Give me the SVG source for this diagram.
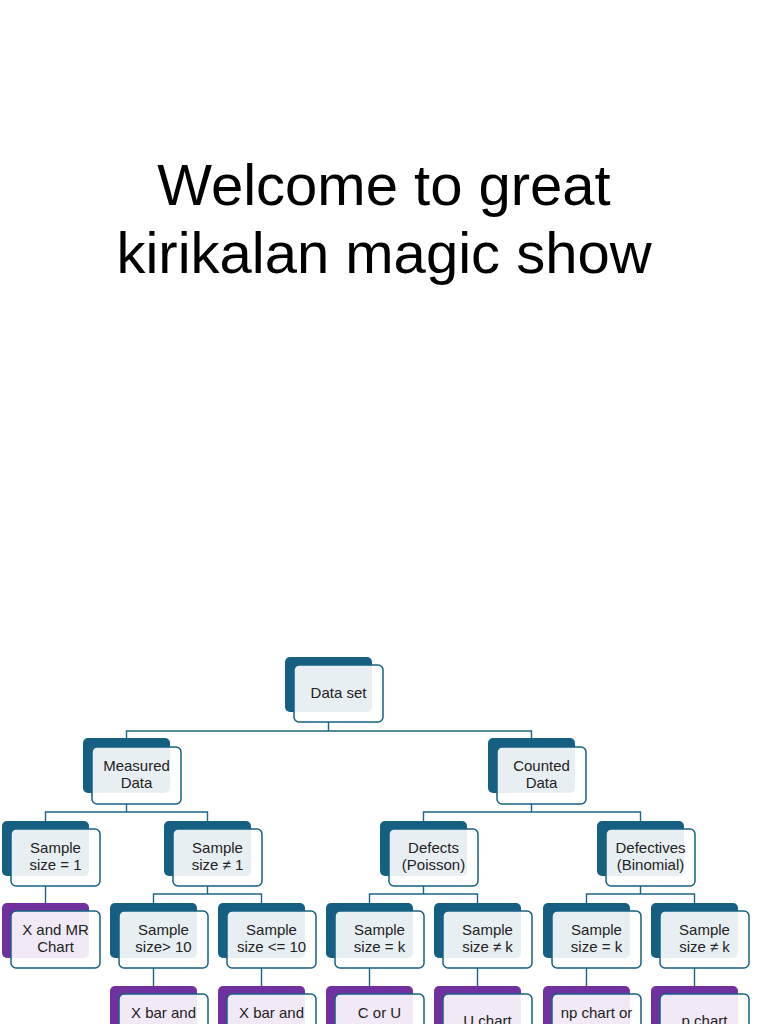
<svg xmlns="http://www.w3.org/2000/svg" width="768" height="1024" viewBox="0 0 768 1024">
<style>
.bk{fill:#156082}
.pk{fill:#7030a0}
.fr{fill:#ffffff;fill-opacity:0.9;stroke:#156082;stroke-width:1.5}
.t{font-family:"Liberation Sans",Arial,sans-serif;font-size:15px;fill:#222222;text-anchor:middle}
.ti{font-family:"Liberation Sans",Arial,sans-serif;font-size:58px;fill:#000000;text-anchor:middle}
.cn{fill:none;stroke:#1b6584;stroke-width:1.4}
</style>
<rect width="768" height="1024" fill="#ffffff"/>
<g id="title">
<text class="ti" x="384" y="205">Welcome to great</text>
<text class="ti" x="384" y="273">kirikalan magic show</text>
</g>
<g id="connectors" class="cn">
<path d="M328.5 722V731M126.5 738V731H531.5V738"/>
<path d="M126.5 804V812M45.5 821V812H207.5V821"/>
<path d="M531.5 803V812M423.5 821V812H640.5V821"/>
<path d="M45.5 886V903"/>
<path d="M207.5 886V894M153.5 903V894H261.5V903"/>
<path d="M423.5 886V894M369.5 903V894H477.5V903"/>
<path d="M640.5 886V894M586.5 903V894H694.5V903"/>
<path d="M153.5 968V986M261.5 968V986M369.5 968V986M477.5 968V986M586.5 968V986M694.5 968V986"/>
</g>
<g id="n-dataset"><rect class="bk" x="285" y="657" width="87" height="55" rx="5"/><rect class="fr" x="294" y="665" width="89" height="57" rx="5"/><text class="t" x="338.5" y="698">Data set</text></g>
<g id="n-measured"><rect class="bk" x="83" y="738" width="87" height="55" rx="5"/><rect class="fr" x="92" y="747" width="89" height="57" rx="5"/><text class="t" x="136.5" y="771">Measured</text><text class="t" x="136.5" y="788">Data</text></g>
<g id="n-counted"><rect class="bk" x="488" y="738" width="87" height="55" rx="5"/><rect class="fr" x="497" y="747" width="89" height="57" rx="5"/><text class="t" x="541.5" y="771">Counted</text><text class="t" x="541.5" y="788">Data</text></g>
<g id="n-ss1"><rect class="bk" x="2" y="821" width="87" height="55" rx="5"/><rect class="fr" x="11" y="829" width="89" height="57" rx="5"/><text class="t" x="55.5" y="853">Sample</text><text class="t" x="55.5" y="870">size = 1</text></g>
<g id="n-ssn1"><rect class="bk" x="164" y="821" width="87" height="55" rx="5"/><rect class="fr" x="173" y="829" width="89" height="57" rx="5"/><text class="t" x="217.5" y="853">Sample</text><text class="t" x="217.5" y="870">size ≠ 1</text></g>
<g id="n-defects"><rect class="bk" x="380" y="821" width="87" height="55" rx="5"/><rect class="fr" x="389" y="829" width="89" height="57" rx="5"/><text class="t" x="433.5" y="853">Defects</text><text class="t" x="433.5" y="870">(Poisson)</text></g>
<g id="n-defectives"><rect class="bk" x="597" y="821" width="87" height="55" rx="5"/><rect class="fr" x="606" y="829" width="89" height="57" rx="5"/><text class="t" x="650.5" y="853">Defectives</text><text class="t" x="650.5" y="870">(Binomial)</text></g>
<g id="n-xmr"><rect class="pk" x="2" y="903" width="87" height="55" rx="5"/><rect class="fr" x="11" y="911" width="89" height="57" rx="5"/><text class="t" x="55.5" y="935">X and MR</text><text class="t" x="55.5" y="952">Chart</text></g>
<g id="n-ss10"><rect class="bk" x="110" y="903" width="87" height="55" rx="5"/><rect class="fr" x="119" y="911" width="89" height="57" rx="5"/><text class="t" x="163.5" y="935">Sample</text><text class="t" x="163.5" y="952">size&gt; 10</text></g>
<g id="n-ssle10"><rect class="bk" x="218" y="903" width="87" height="55" rx="5"/><rect class="fr" x="227" y="911" width="89" height="57" rx="5"/><text class="t" x="271.5" y="935">Sample</text><text class="t" x="271.5" y="952">size &lt;= 10</text></g>
<g id="n-ssk1"><rect class="bk" x="326" y="903" width="87" height="55" rx="5"/><rect class="fr" x="335" y="911" width="89" height="57" rx="5"/><text class="t" x="379.5" y="935">Sample</text><text class="t" x="379.5" y="952">size = k</text></g>
<g id="n-ssnk1"><rect class="bk" x="434" y="903" width="87" height="55" rx="5"/><rect class="fr" x="443" y="911" width="89" height="57" rx="5"/><text class="t" x="487.5" y="935">Sample</text><text class="t" x="487.5" y="952">size ≠ k</text></g>
<g id="n-ssk2"><rect class="bk" x="543" y="903" width="87" height="55" rx="5"/><rect class="fr" x="552" y="911" width="89" height="57" rx="5"/><text class="t" x="596.5" y="935">Sample</text><text class="t" x="596.5" y="952">size = k</text></g>
<g id="n-ssnk2"><rect class="bk" x="651" y="903" width="87" height="55" rx="5"/><rect class="fr" x="660" y="911" width="89" height="57" rx="5"/><text class="t" x="704.5" y="935">Sample</text><text class="t" x="704.5" y="952">size ≠ k</text></g>
<g id="n-xbarr"><rect class="pk" x="110" y="986" width="87" height="55" rx="5"/><rect class="fr" x="119" y="994" width="89" height="57" rx="5"/><text class="t" x="163.5" y="1018">X bar and</text><text class="t" x="163.5" y="1035">R chart</text></g>
<g id="n-xbars"><rect class="pk" x="218" y="986" width="87" height="55" rx="5"/><rect class="fr" x="227" y="994" width="89" height="57" rx="5"/><text class="t" x="271.5" y="1018">X bar and</text><text class="t" x="271.5" y="1035">S chart</text></g>
<g id="n-cu"><rect class="pk" x="326" y="986" width="87" height="55" rx="5"/><rect class="fr" x="335" y="994" width="89" height="57" rx="5"/><text class="t" x="379.5" y="1018">C or U</text><text class="t" x="379.5" y="1035">chart</text></g>
<g id="n-u"><rect class="pk" x="434" y="986" width="87" height="55" rx="5"/><rect class="fr" x="443" y="994" width="89" height="57" rx="5"/><text class="t" x="487.5" y="1026">U chart</text></g>
<g id="n-np"><rect class="pk" x="543" y="986" width="87" height="55" rx="5"/><rect class="fr" x="552" y="994" width="89" height="57" rx="5"/><text class="t" x="596.5" y="1018">np chart or</text><text class="t" x="596.5" y="1035">p chart</text></g>
<g id="n-p"><rect class="pk" x="651" y="986" width="87" height="55" rx="5"/><rect class="fr" x="660" y="994" width="89" height="57" rx="5"/><text class="t" x="704.5" y="1026">p chart</text></g>
</svg>
